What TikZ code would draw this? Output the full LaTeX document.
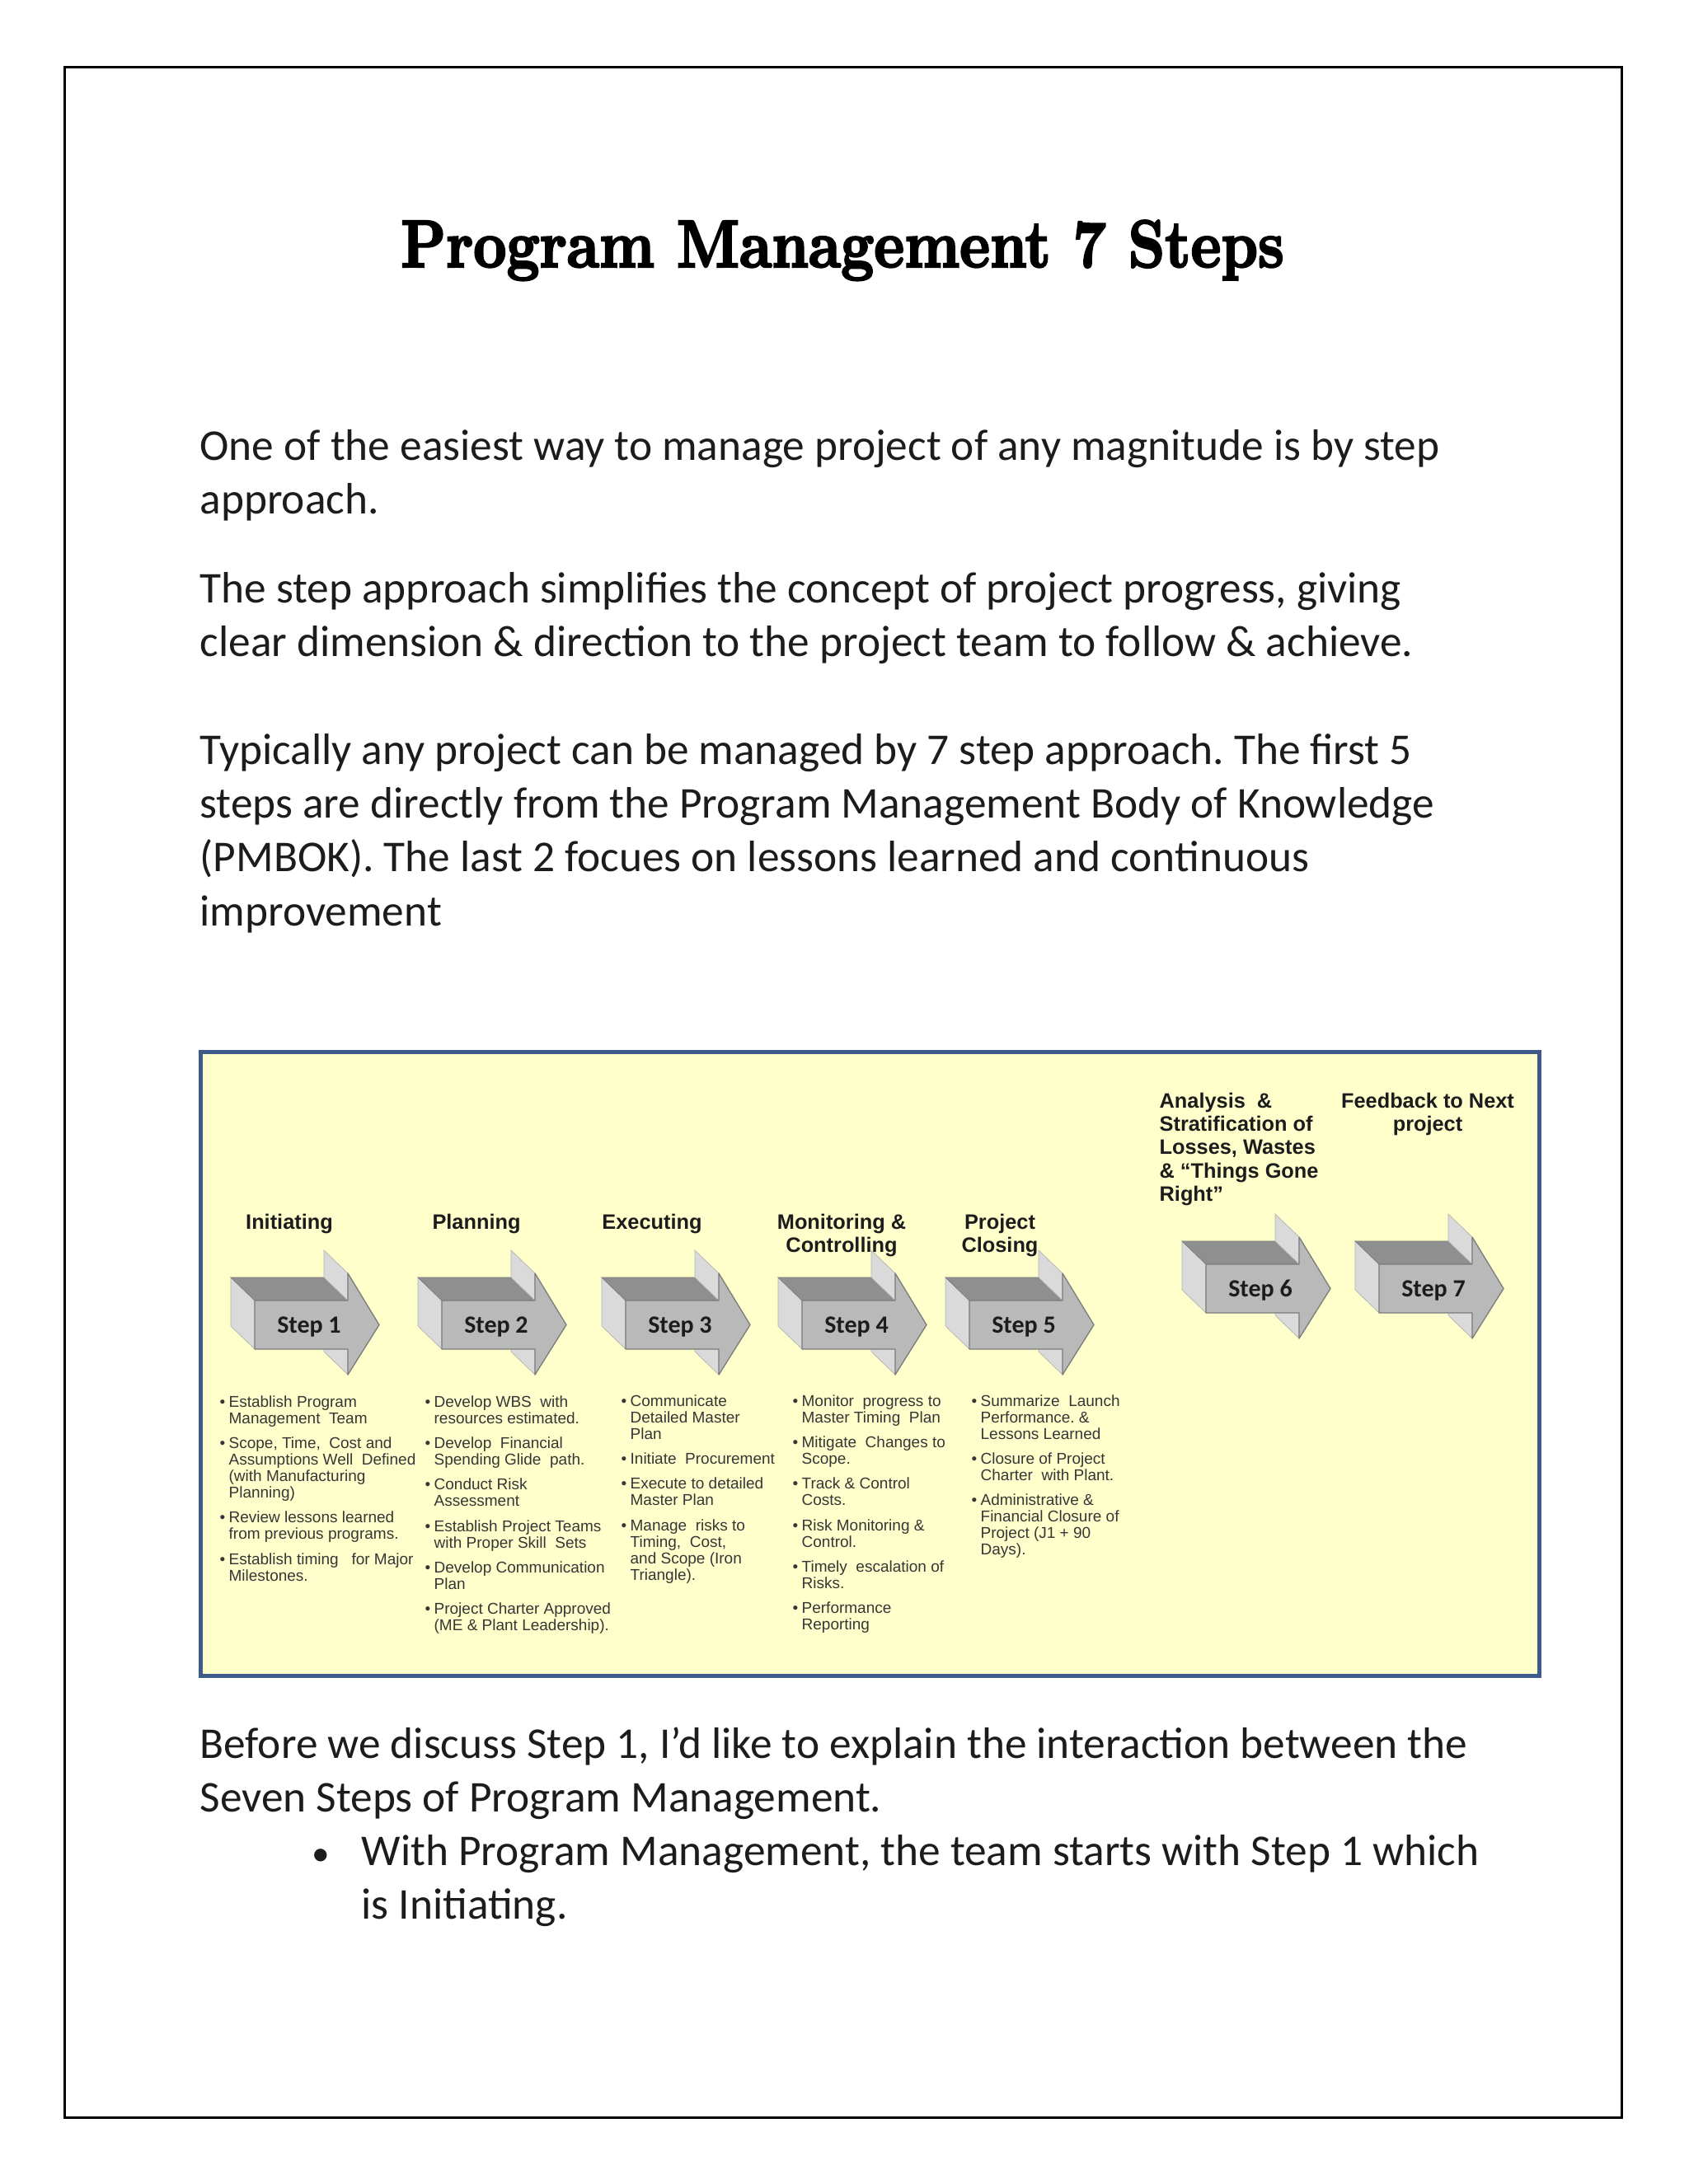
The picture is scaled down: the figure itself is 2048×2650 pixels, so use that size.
\documentclass[tikz,border=0pt]{standalone}
\usepackage{fontspec}
\newfontfamily\bodyfont{Carlito}
\newfontfamily\diagfont{Liberation Sans}
\newfontfamily\titlefont{lmroman10-bold}[Extension=.otf, FakeBold=3]
\usetikzlibrary{positioning}
\frenchspacing

\definecolor{pageink}{HTML}{1C1C1C}
\definecolor{listink}{HTML}{363636}
\definecolor{noteyellow}{HTML}{FFFFCC}
\definecolor{noteblue}{HTML}{3D5A8A}
\definecolor{facefront}{HTML}{B9B9B9}
\definecolor{facetop}{HTML}{8F8F8F}
\definecolor{faceside}{HTML}{DADADA}
\definecolor{faceedge}{HTML}{7C7C7C}

\tikzset{
  pagetitle/.style={anchor=base, inner sep=0pt, text=black, font=\titlefont\fontsize{24.4}{29}\selectfont},
  bodytext/.style={anchor=base west, inner sep=0pt, text=pageink, font=\bodyfont\fontsize{16}{19.6}\selectfont},
  phasehead/.style={anchor=base, inner sep=0pt, text=pageink, font=\diagfont\bfseries\fontsize{7.6}{8.5}\selectfont},
  steplabel/.style={anchor=base, inner sep=0pt, text=pageink, font=\bodyfont\bfseries\fontsize{9}{10}\selectfont},
  tasklist/.style={anchor=base west, inner sep=0pt, text=listink, font=\diagfont\fontsize{5.7}{6}\selectfont},
  blockside/.style={fill=faceside, draw=faceedge!60, line width=0.2pt},
  blocktop/.style={fill=facetop, draw=faceedge, line width=0.2pt},
  blockfront/.style={fill=facefront, draw=faceedge, line width=0.4pt, line join=round}
}

\begin{document}
\begin{tikzpicture}[x=0.10542mm,y=-0.10542mm]
  \useasboundingbox (0,0) rectangle (2048,2650);
  \fill[white] (0,0) rectangle (2048,2650);
  \draw[line width=0.9pt] (78,81) rectangle (1967,2569);

  \node[pagetitle] (title) at (1022,324) {\scalebox{0.86}[1]{Program Management 7 Steps}};

  \node[bodytext] (intro) at (242,558) {\begin{tabular}[t]{@{}l@{}}
    One of the easiest way to manage project of any magnitude is by step\\
    approach.\end{tabular}};
  \node[bodytext] (simplify) at (242,731) {\begin{tabular}[t]{@{}l@{}}
    The step approach simplifies the concept of project progress, giving\\
    clear dimension \& direction to the project team to follow \& achieve.\end{tabular}};
  \node[bodytext] (pmbok) at (242,927) {\begin{tabular}[t]{@{}l@{}}
    Typically any project can be managed by 7 step approach. The first 5\\
    steps are directly from the Program Management Body of Knowledge\\
    (PMBOK). The last 2 focues on lessons learned and continuous\\
    improvement\end{tabular}};

  % yellow panel
  \draw[fill=noteyellow, draw=noteblue, line width=1.5pt] (243,1276) rectangle (1867,2033);

  % phase headings
  \node[phasehead] (initiating) at (351,1491) {Initiating};
  \node[phasehead] (planning) at (578,1491) {Planning};
  \node[phasehead] (executing) at (791,1491) {Executing};
  \node[phasehead] (monitoring) at (1021,1491) {\begin{tabular}[t]{@{}c@{}}Monitoring \&\\Controlling\end{tabular}};
  \node[phasehead] (closing) at (1213,1491) {\begin{tabular}[t]{@{}c@{}}Project\\Closing\end{tabular}};
  \node[phasehead, anchor=base west] (analysis) at (1406,1344) {\begin{tabular}[t]{@{}l@{}}Analysis\ \ \&\\Stratification of\\Losses, Wastes\\\& “Things Gone\\Right”\end{tabular}};
  \node[phasehead] (feedback) at (1732,1344) {\begin{tabular}[t]{@{}c@{}}Feedback to Next\\project\end{tabular}};

  % 3D step arrows
  \foreach \n/\fx/\fy in {1/309/1578,2/536/1578,3/759/1578,4/973/1578,5/1176/1578,6/1463/1534,7/1673/1534}{
    \filldraw[blockside] (\fx-29,\fy-28) -- (\fx,\fy) -- (\fx,\fy+59) -- (\fx-29,\fy+31) -- cycle;
    \filldraw[blocktop] (\fx-29,\fy-28) -- (\fx+84,\fy-28) -- (\fx+113,\fy) -- (\fx,\fy) -- cycle;
    \filldraw[blockside] (\fx+113,\fy-33) -- (\fx+113,\fy) -- (\fx+84,\fy-28) -- (\fx+84,\fy-61) -- cycle;
    \filldraw[blockside] (\fx+113,\fy+59) -- (\fx+113,\fy+90) -- (\fx+84,\fy+62) -- (\fx+84,\fy+31) -- cycle;
    \filldraw[blockfront] (\fx,\fy) -- (\fx+113,\fy) -- (\fx+113,\fy-33) -- (\fx+151,\fy+29.5)
      -- (\fx+113,\fy+90) -- (\fx+113,\fy+59) -- (\fx,\fy+59) -- cycle;
    \node[steplabel] (step\n) at (\fx+66,\fy+39) {Step \n};
  }

  % task lists
  \node[tasklist] (tasks1) at (266,1707) {\begin{tabular}[t]{@{}l@{\hspace{1.3pt}}l@{}}
    \textbullet & Establish Program\\ & Management\ \ Team\\[3.1pt]
    \textbullet & Scope, Time,\ \ Cost and\\ & Assumptions Well\ \ Defined\\ & (with Manufacturing\\ & Planning)\\[3.1pt]
    \textbullet & Review lessons learned\\ & from previous programs.\\[3.1pt]
    \textbullet & Establish timing \ \ for Major\\ & Milestones.\end{tabular}};
  \node[tasklist] (tasks2) at (515,1707) {\begin{tabular}[t]{@{}l@{\hspace{1.3pt}}l@{}}
    \textbullet & Develop WBS\ \ with\\ & resources estimated.\\[3.1pt]
    \textbullet & Develop\ \ Financial\\ & Spending Glide\ \ path.\\[3.1pt]
    \textbullet & Conduct Risk\\ & Assessment\\[3.1pt]
    \textbullet & Establish Project Teams\\ & with Proper Skill\ \ Sets\\[3.1pt]
    \textbullet & Develop Communication\\ & Plan\\[3.1pt]
    \textbullet & Project Charter Approved\\ & (ME \& Plant Leadership).\end{tabular}};
  \node[tasklist] (tasks3) at (753,1706) {\begin{tabular}[t]{@{}l@{\hspace{1.3pt}}l@{}}
    \textbullet & Communicate\\ & Detailed Master\\ & Plan\\[3.1pt]
    \textbullet & Initiate\ \ Procurement\\[3.1pt]
    \textbullet & Execute to detailed\\ & Master Plan\\[3.1pt]
    \textbullet & Manage\ \ risks to\\ & Timing,\ \ Cost,\\ & and Scope (Iron\\ & Triangle).\end{tabular}};
  \node[tasklist] (tasks4) at (961,1706) {\begin{tabular}[t]{@{}l@{\hspace{1.3pt}}l@{}}
    \textbullet & Monitor\ \ progress to\\ & Master Timing\ \ Plan\\[3.1pt]
    \textbullet & Mitigate\ \ Changes to\\ & Scope.\\[3.1pt]
    \textbullet & Track \& Control\\ & Costs.\\[3.1pt]
    \textbullet & Risk Monitoring \&\\ & Control.\\[3.1pt]
    \textbullet & Timely\ \ escalation of\\ & Risks.\\[3.1pt]
    \textbullet & Performance\\ & Reporting\end{tabular}};
  \node[tasklist] (tasks5) at (1178,1706) {\begin{tabular}[t]{@{}l@{\hspace{1.3pt}}l@{}}
    \textbullet & Summarize\ \ Launch\\ & Performance. \&\\ & Lessons Learned\\[3.1pt]
    \textbullet & Closure of Project\\ & Charter\ \ with Plant.\\[3.1pt]
    \textbullet & Administrative \&\\ & Financial Closure of\\ & Project (J1 + 90\\ & Days).\end{tabular}};

  \node[bodytext] (interaction) at (242,2133) {\begin{tabular}[t]{@{}l@{}}
    Before we discuss Step 1, I’d like to explain the interaction between the\\
    Seven Steps of Program Management.\end{tabular}};
  \node[bodytext] (dot) at (378,2263) {\fontsize{13}{16}\selectfont•};
  \node[bodytext] (initiate) at (438,2263) {\begin{tabular}[t]{@{}l@{}}
    With Program Management, the team starts with Step 1 which\\
    is Initiating.\end{tabular}};
\end{tikzpicture}
\end{document}
